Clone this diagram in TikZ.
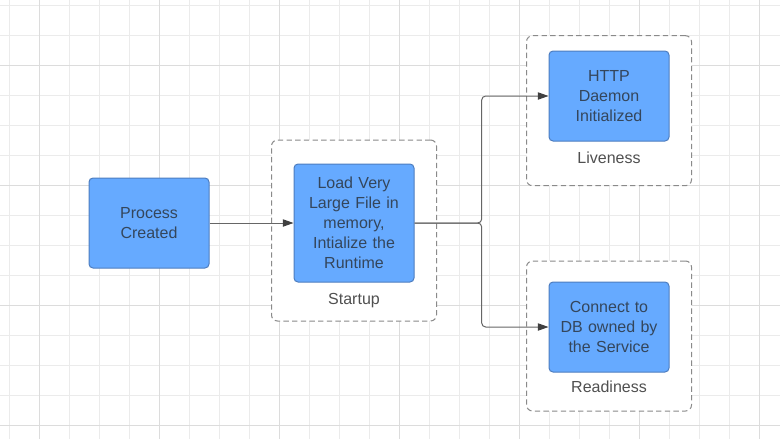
\documentclass[tikz,border=0pt]{standalone}
\usepackage{fontspec}
\setmainfont{Liberation Sans}
\usetikzlibrary{arrows.meta}
\definecolor{boxfill}{HTML}{66AAFF}
\definecolor{boxline}{HTML}{4D7DBF}
\definecolor{boxtext}{HTML}{34465C}
\definecolor{grpline}{HTML}{8A8A8A}
\definecolor{grptext}{HTML}{505050}
\definecolor{conn}{HTML}{666666}
\definecolor{gridminor}{HTML}{EBEBEB}
\definecolor{gridmajor}{HTML}{DCDCDC}
\tikzset{
  stepbox/.style={draw=boxline, fill=boxfill, rounded corners=3pt, line width=0.75pt,
    minimum width=90pt, minimum height=67.5pt, inner sep=0pt, text=boxtext,
    font=\fontsize{12pt}{15pt}\selectfont, align=center, text width=88pt},
  group/.style={draw=grpline, dashed, dash pattern=on 4pt off 2.5pt, line width=0.75pt,
    rounded corners=4.5pt, minimum width=123.75pt, inner sep=0pt},
  grouplabel/.style={text=grptext, font=\fontsize{12pt}{15pt}\selectfont, inner sep=0pt},
  link/.style={draw=conn, line width=0.75pt, rounded corners=3pt,
    -{Triangle[length=8pt,width=5.5pt,fill=black!75,color=black!75]}},
}
\begin{document}
\begin{tikzpicture}[x=0.75pt,y=-0.75pt]
\useasboundingbox (0,0) rectangle (780,439);
\fill[white] (0,0) rectangle (780,439);
% grid
\foreach \gx in {9.3,39.3,...,780} \draw[gridminor, line width=0.75pt] (\gx,0) -- (\gx,439);
\foreach \gy in {5,35,...,439} \draw[gridminor, line width=0.75pt] (0,\gy) -- (780,\gy);
\foreach \gx in {39.3,159.3,...,780} \draw[gridmajor, line width=0.75pt] (\gx,0) -- (\gx,439);
\foreach \gy in {65,185,...,439} \draw[gridmajor, line width=0.75pt] (0,\gy) -- (780,\gy);
% groups
\node[group, fill=white, minimum height=135.75pt] (startupgrp) at (354,230.5) {};
\node[group, fill=white, minimum height=112.5pt] (livegrp) at (609,110.7) {};
\node[group, fill=white, minimum height=112.5pt] (readygrp) at (609,336) {};
% boxes
\node[stepbox] (proc) at (149,223) {Process\\Created};
\node[stepbox, minimum height=88.5pt] (load) at (354,223) {Load Very\\Large File in\\memory,\\Intialize the\\Runtime};
\node[stepbox] (http) at (609,96) {HTTP\\Daemon\\Initialized};
\node[stepbox] (db) at (609,327) {Connect to\\DB owned by\\the Service};
% labels
\node[grouplabel] (startuplbl) at (354,300.5) {Startup};
\node[grouplabel] (livelbl) at (609,157.5) {Liveness};
\node[grouplabel] (readylbl) at (609,386.5) {Readiness};
% connectors
\coordinate (split) at (481.7,223);
\draw[link] (proc.east) -- (load.west);
\draw[link] (load.east) -- (split) |- (http.west);
\draw[link] (load.east) -- (split) |- (db.west);
\end{tikzpicture}
\end{document}
